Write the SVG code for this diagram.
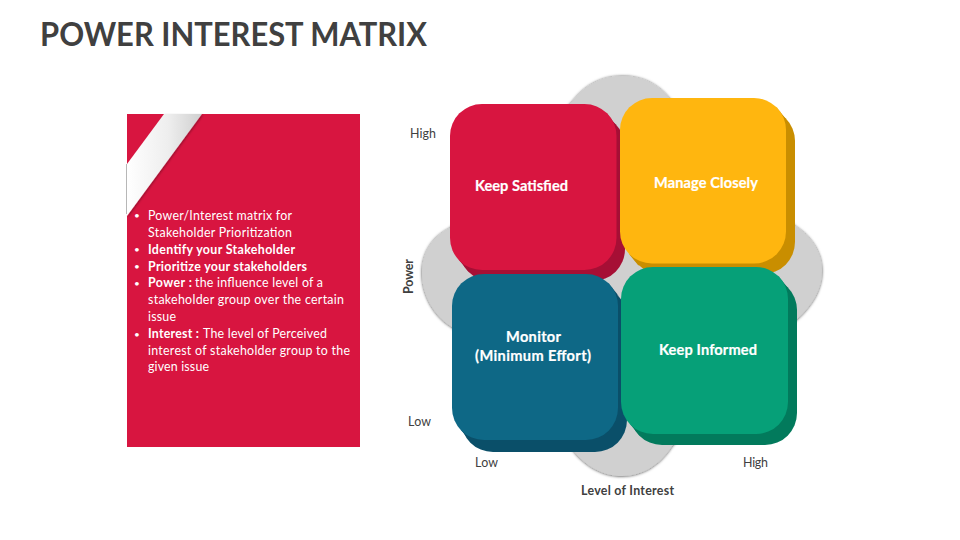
<svg xmlns="http://www.w3.org/2000/svg" width="960" height="540" viewBox="0 0 960 540">
<style>
text{font-family:Lato,"Open Sans","Liberation Sans",sans-serif}
.t{font-size:12.4px;fill:#fff}
.bu{font-size:10px;fill:#fff}
.b{font-weight:700}
.l{font-size:12.4px;fill:#404040}
.ll{font-size:12.4px;fill:#404040;font-weight:700}
.n{font-size:14.6px;fill:#fff;font-weight:700;paint-order:stroke;stroke:#fff;stroke-width:.2px}
</style>
<defs>
<linearGradient id="rib" x1="0" y1="0" x2="1" y2="0"><stop offset="0" stop-color="#fff"/><stop offset=".55" stop-color="#eeeeee"/><stop offset="1" stop-color="#cfcfcf"/></linearGradient>
<filter id="sh" x="-10%" y="-10%" width="120%" height="120%"><feDropShadow dx="0" dy="0.300" stdDeviation="1.700" flood-color="#000" flood-opacity=".75"/></filter>
<filter id="rs" x="-10%" y="-10%" width="120%" height="120%"><feDropShadow dx="1" dy="1" stdDeviation="1" flood-color="#000" flood-opacity=".3"/></filter>
</defs>
<rect width="960" height="540" fill="#fff"/>
<text x="40" y="46" font-size="33" font-weight="700" fill="#404040" textLength="387" lengthAdjust="spacingAndGlyphs">POWER INTEREST MATRIX</text>

<g id="panel">
<rect x="127" y="114" width="233" height="333" fill="#D81540"/>
<rect x="126" y="164" width="1" height="50" fill="#bbb"/>
<polygon points="164,114 202,114 127,216 127,164" fill="url(#rib)" filter="url(#rs)"/>
<g class="t">
<text class="bu" x="134" y="219">•</text><text x="148" y="220" textLength="144">Power/Interest matrix for</text>
<text x="148" y="237" textLength="144">Stakeholder Prioritization</text>
<text class="bu" x="134" y="253">•</text><text x="148" y="254" class="b" textLength="147">Identify your Stakeholder</text>
<text class="bu" x="134" y="270">•</text><text x="148" y="271" class="b" textLength="159">Prioritize your stakeholders</text>
<text class="bu" x="134" y="286.500">•</text><text x="148" y="287" class="b" textLength="44">Power :</text><text x="195" y="287" textLength="128">the influence level of a</text>
<text x="148" y="304" textLength="196">stakeholder group over the certain</text>
<text x="148" y="320.500" textLength="28">issue</text>
<text class="bu" x="134" y="337.500">•</text><text x="148" y="337.500" class="b" textLength="51">Interest :</text><text x="203" y="337.500" textLength="124">The level of Perceived</text>
<text x="148" y="354.500" textLength="202">interest of stakeholder group to the</text>
<text x="148" y="371" textLength="61">given issue</text>
</g>
</g>

<g id="backdrop">
<path d="M572 102C586 84 603 76 622 76C642 76 658 84 669 98L795 226C811 236 822 252 822 271C822 289 812 306 797 319L672 446C660 465 642 476 622 476C603 476 585 466 573 450L452 327C434 316 422 295 422 273C422 253 432 237 450 228Z" fill="#d0d0d0" filter="url(#sh)"/>
</g>

<g id="keep-satisfied">
<path d="M606.600 113.400L615.600 124.400L468.400 271.600L459.400 260.600Z" fill="#A60F35"/><rect x="459" y="115" width="166" height="166" rx="32" fill="#A60F35"/>
<rect x="450" y="104" width="166.500" height="166" rx="32" fill="#D81540"/>
<text class="n" x="475" y="191" textLength="93">Keep Satisfied</text>
</g>
<g id="manage-closely">
<path d="M776.600 107.400L785.600 118.400L638.400 265.600L629.400 254.600Z" fill="#C98E00"/><rect x="629" y="109" width="166" height="165" rx="32" fill="#C98E00"/>
<rect x="620" y="98" width="166" height="165.500" rx="32" fill="#FFB60F"/>
<text class="n" x="654" y="188" textLength="104">Manage Closely</text>
</g>
<g id="monitor">
<path d="M608.600 283.400L617.600 294.400L470.400 441.600L461.400 430.600Z" fill="#0A4F69"/><rect x="461" y="286" width="166" height="166" rx="32" fill="#0A4F69"/>
<rect x="452" y="274" width="166" height="166" rx="32" fill="#0E6886"/>
<text class="n" x="506" y="342" textLength="55">Monitor</text>
<text class="n" x="475" y="361" textLength="116">(Minimum Effort)</text>
</g>
<g id="keep-informed">
<path d="M778.600 276.400L787.600 287.400L639.400 435.600L630.400 424.600Z" fill="#027A5C"/><rect x="630" y="278" width="167" height="167" rx="32" fill="#027A5C"/>
<rect x="621" y="267" width="167" height="167" rx="32" fill="#06A078"/>
<text class="n" x="659" y="355" textLength="98">Keep Informed</text>
</g>

<g id="axis-labels">
<text class="l" x="410" y="138" textLength="26">High</text>
<text class="l" x="408" y="426" textLength="23">Low</text>
<text class="l" x="475" y="467" textLength="23">Low</text>
<text class="l" x="743" y="467" textLength="25">High</text>
<text class="ll" x="581" y="495" textLength="93">Level of Interest</text>
<text class="ll" transform="translate(413 294) rotate(-90)" textLength="35">Power</text>
</g>
</svg>
